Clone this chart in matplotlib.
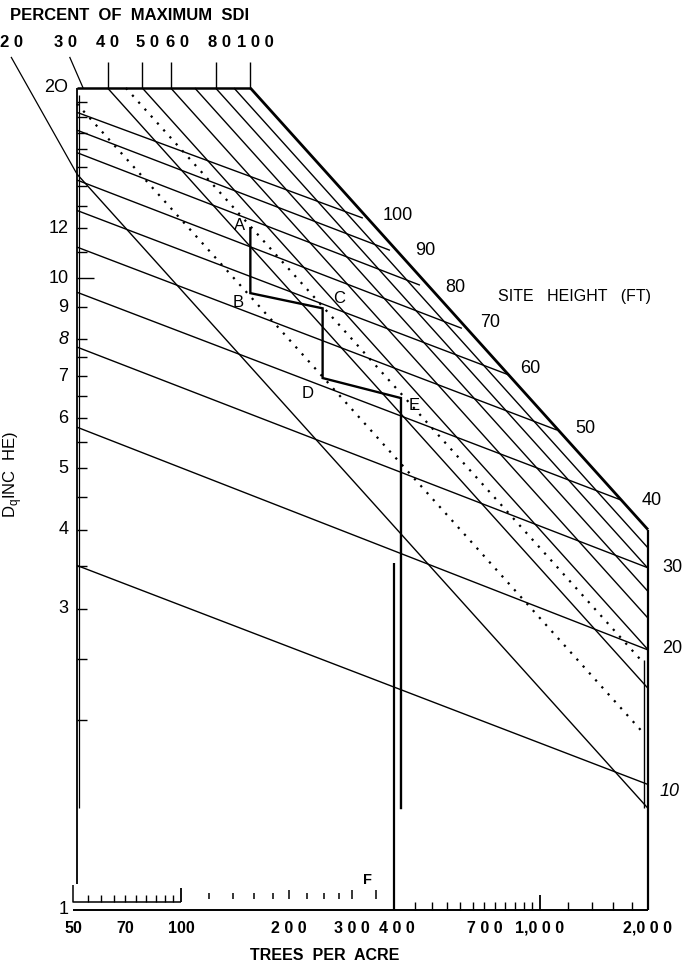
import numpy as np
from matplotlib import pyplot as plt

plt.rcParams['font.family'] = ['Liberation Sans', 'DejaVu Sans']

# 100 % of maximum SDI passes through N_TOP trees/acre at Dq = 20 in
N_TOP = 156
SDI_SLOPE = 0.631
N_LEFT = 51.3
N_RIGHT = 2000
D_TOP = 20

# percent of maximum SDI lines
pct_solid = [40, 50, 60, 70, 80, 90]
pct_dotted = [30, 45]
pct_long = 20
pct_ticks = [40, 50, 60, 80, 100]
pct_labels = ['2 0', '3 0', '4 0', '5 0', '6 0', '8 0', '1 0 0']
pct_label_n = [33.6, 47.5, 62.2, 80.4, 98, 128, 161]

# site height lines (left end on the axis, right end on max SDI / 2000 tpa)
site_heights = ['100', '90', '80', '70', '60', '50', '40', '30', '20', '10']
site_d_left = [18.3, 17.15, 15.8, 14.3, 12.8, 11.2, 9.5, 7.78, 5.81, 3.51]
site_n_right = [321, 382, 463, 606, 824, 1115, 1692, 2000, 2000, 2000]
site_d_right = [12.45, 11.07, 9.75, 8.33, 7.02, 5.75, 4.45, 3.48, 2.58, 1.58]

# thinning path A-E and on down
path_names = ['A', 'B', 'C', 'D', 'E']
path_n = [156, 156, 248, 248, 410, 410]
path_d = [12.0, 9.47, 8.96, 6.95, 6.46, 1.45]

# axis ticks and labels
y_minor = [19, 18, 17, 16, 15, 14, 13, 12, 11, 9, 8, 7.5, 7, 6.5, 6, 5.5,
           5, 4.5, 4, 3.5, 3, 2.5, 2]
y_label_vals = [20, 12, 10, 9, 8, 7, 6, 5, 4, 3, 1]
y_label_txt = ['2O', '12', '10', '9', '8', '7', '6', '5', '4', '3', '1']
x_label_vals = [50, 70, 100, 200, 300, 400, 700, 1000, 2000]
x_label_txt = ['50', '70', '100', '2 0 0', '3 0 0', '4 0 0', '7 0 0',
               '1,0 0 0', '2,0 0 0']
bracket_ticks = [55, 60, 65, 70, 75, 80, 85, 90, 95]
float_ticks = [120, 140, 160, 180, 200, 225, 250, 275, 300, 350]
upper_ticks = [450, 500, 550, 600, 650, 700, 750, 800, 850, 900, 950,
               1200, 1400, 1600, 1800]


def sdi_d(pct, n):
    n_p = N_TOP * pct / 100.0
    return D_TOP * (n_p / np.asarray(n, dtype=float)) ** SDI_SLOPE


fig = plt.figure(figsize=(6.85, 9.68), dpi=100)
ax = fig.add_axes([73 / 685, 1 - 910 / 968, 575 / 685, 822 / 968])
ax.set_xscale('log')
ax.set_yscale('log')
ax.set_xlim(50, 2000)
ax.set_ylim(1, 20)
ax.axis('off')

k = dict(color='black', clip_on=False, solid_capstyle='butt')

# frame: left axis (double), top, max SDI, right axis, bottom
ax.plot([N_LEFT, N_LEFT], [1.10, D_TOP], lw=1.3, **k)
ax.plot([N_LEFT * 1.013] * 2, [1.45, 19.5], lw=0.9, **k)
ax.plot([N_LEFT, N_TOP], [D_TOP, D_TOP], lw=1.8, **k)
ax.plot([N_TOP, N_RIGHT], [D_TOP, sdi_d(100, N_RIGHT)], lw=2.0, **k)
ax.plot([N_RIGHT, N_RIGHT], [1, sdi_d(100, N_RIGHT)], lw=1.6, **k)
ax.plot([1955, 1955], [1.45, 2.49], lw=1.0, **k)
ax.plot([50, N_RIGHT], [1, 1], lw=1.4, **k)

# percent SDI lines
for p in pct_solid:
    ax.plot([N_TOP * p / 100, N_RIGHT], sdi_d(p, [N_TOP * p / 100, N_RIGHT]),
            lw=1.0, **k)
for p in pct_dotted:
    n0 = max(N_TOP * p / 100, N_LEFT)
    ax.plot([n0, 1950], sdi_d(p, [n0, 1950]), lw=1.6,
            linestyle=(0, (1.0, 3.2)), color='black', clip_on=False)
ax.plot([N_LEFT, N_RIGHT], sdi_d(pct_long, [N_LEFT, N_RIGHT]), lw=1.0, **k)

# percent ticks and leaders at the top
for p in pct_ticks:
    ax.plot([N_TOP * p / 100] * 2, [D_TOP, 21.97], lw=1.0, **k)
ax.plot([pct_label_n[0], N_LEFT], [22.4, sdi_d(pct_long, N_LEFT)], lw=0.9, **k)
ax.plot([pct_label_n[1] * 1.03, N_LEFT * 1.04], [22.4, D_TOP], lw=0.9, **k)
for n, t in zip(pct_label_n, pct_labels):
    ax.text(n, 23.6, t, ha='center', va='center', fontsize=12,
            fontweight='bold')
fig.text(10 / 685, 1 - 15 / 968, 'PERCENT  OF  MAXIMUM  SDI', ha='left',
         va='center', fontsize=12, fontweight='bold')

# site height lines
for d0, n1, d1 in zip(site_d_left, site_n_right, site_d_right):
    ax.plot([N_LEFT, n1], [d0, d1], lw=1.0, **k)
site_off = [(35, 3), (35, 0), (35, -2), (28, 6), (20, 7), (28, 2), (30, 0),
            (24, 0), (24, 1), (22, -7)]
for i, (t, n1, d1) in enumerate(zip(site_heights, site_n_right, site_d_right)):
    ax.annotate(t, (n1, d1), xytext=site_off[i], textcoords='offset pixels',
                ha='center', va='center', fontsize=13,
                fontstyle='italic' if t == '10' else 'normal')
fig.text(575 / 685, 1 - 296 / 968, 'SITE   HEIGHT   (FT)', ha='center',
         va='center', fontsize=11.5)

# thinning path
ax.plot(path_n, path_d, lw=1.7, solid_joinstyle='miter', color='black',
        clip_on=False)
ax.plot([392, 392], [1, 3.54], lw=1.6, **k)
path_off = [(-11, 3), (-12, -9), (17, 10), (-15, -15), (13, -7)]
for t, n, d, o in zip(path_names, path_n, path_d, path_off):
    ax.annotate(t, (n, d), xytext=o, textcoords='offset pixels',
                ha='center', va='center', fontsize=12)
ax.text(330, 1.115, 'F', ha='center', va='center', fontsize=10.5,
        fontweight='bold')

# left axis ticks and labels
for d in y_minor:
    ax.plot([N_LEFT, N_LEFT * 1.066], [d, d], lw=1.0, **k)
ax.plot([N_LEFT, N_LEFT * 1.115], [10, 10], lw=1.0, **k)
for d, t in zip(y_label_vals, y_label_txt):
    ax.text(48.5, d, t, ha='right', va='center', fontsize=13,
            fontstyle='italic' if t == '8' else 'normal')
ax.text(0.018, 0.51, r'D$_\mathregular{q}$INC  HE)', rotation=90,
        transform=fig.transFigure, ha='center', va='center', fontsize=12)

# bottom scale
ax.plot([50, 50, 100], [1.095, 1.03, 1.03], lw=1.1, **k)
for n in bracket_ticks:
    ax.plot([n, n], [1.03, 1.058], lw=1.0, **k)
ax.plot([100, 100], [1.03, 1.085], lw=1.3, **k)
for n in float_ticks:
    top = 1.075 if n in (200, 300, 350) else 1.065
    ax.plot([n, n], [1.04, top], lw=1.1, **k)
for n in upper_ticks:
    ax.plot([n, n], [1.0, 1.03], lw=1.0, **k)
ax.plot([1000, 1000], [1.0, 1.055], lw=1.3, **k)
for n, t in zip(x_label_vals, x_label_txt):
    ax.text(n, 0.935, t, ha='center', va='center', fontsize=11.5,
            fontweight='bold')
fig.text(325 / 685, 1 - 955 / 968, 'TREES  PER  ACRE', ha='center',
         va='center', fontsize=11.5, fontweight='bold')

fig.savefig('out.png', dpi=100, facecolor='white')
